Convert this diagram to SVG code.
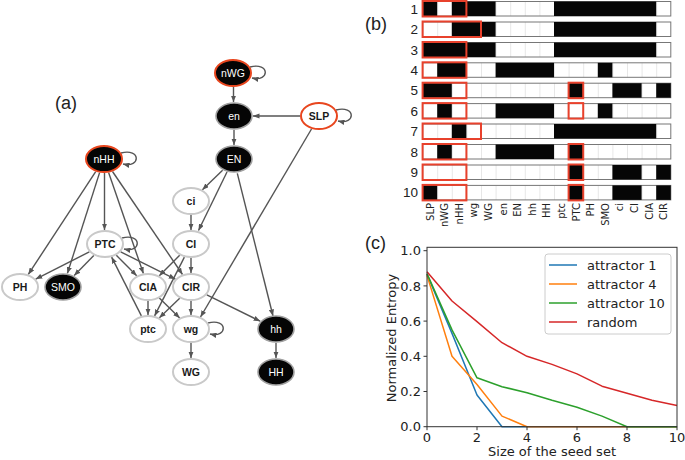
<svg xmlns="http://www.w3.org/2000/svg" width="685" height="460" viewBox="0 0 685 460">
<style>
.edge{stroke:#555;stroke-width:1.4;fill:none;marker-end:url(#ah)}
.nw{fill:#fff;stroke:#c9c9c9;stroke-width:2}
.nb{fill:#050505;stroke:#a0a0a0;stroke-width:1.6}
.nbo{fill:#050505;stroke:#e8461e;stroke-width:2}
.nwo{fill:#fff;stroke:#e8461e;stroke-width:2}
.tw{font-family:"Liberation Sans",Arial,sans-serif;font-weight:bold;font-size:10.5px;fill:#1a1a1a;text-anchor:middle}
.tb{font-family:"Liberation Sans",Arial,sans-serif;font-size:10.5px;fill:#fff;text-anchor:middle}
.lab{font-family:"Liberation Sans",Arial,sans-serif;font-size:18px;fill:#222}
.rl{font-family:"Liberation Sans",Arial,sans-serif;font-size:13.5px;fill:#222;text-anchor:end}
.cl{font-family:"DejaVu Sans",sans-serif;font-size:10px;fill:#222;text-anchor:end}
.blk{fill:#060606}
.row{fill:url(#cells);stroke:#777;stroke-width:1}
.red{fill:none;stroke:#e8412c;stroke-width:2}
.tick{font-family:"DejaVu Sans",sans-serif;font-size:13px;fill:#222}
.leg{font-family:"DejaVu Sans",sans-serif;font-size:13px;fill:#222}
.pl{fill:none;stroke-width:1.5;stroke-linejoin:round}
</style>
<defs>
<marker id="ah" viewBox="0 0 10 8" refX="10" refY="4" markerWidth="6.5" markerHeight="5.2" markerUnits="userSpaceOnUse" orient="auto"><path d="M0,0 L10,4 L0,8 z" fill="#555"/></marker>
<pattern id="cells" x="422.6" y="0" width="14.6" height="20" patternUnits="userSpaceOnUse"><rect width="14.6" height="20" fill="#fff"/><line x1="0.2" y1="0" x2="0.2" y2="20" stroke="#d4d4d4" stroke-width="0.8"/></pattern>
</defs>
<rect width="685" height="460" fill="#fff"/>

<!-- (a) network -->
<text class="lab" x="55" y="109">(a)</text>
<g id="connectors">
<path class="edge" d="M233.5,87 L233.5,102"/>
<path class="edge" d="M300,116 L253,116"/>
<path class="edge" d="M234,130 L234,145"/>
<path class="edge" d="M222.6,170.2 L202.4,189.8"/>
<path class="edge" d="M227,172 L198.5,230.5"/>
<path class="edge" d="M237.3,173.3 L273,316"/>
<path class="edge" d="M311.5,129 L200.5,317"/>
<path class="edge" d="M191,215 L191,230"/>
<path class="edge" d="M191,258 L191,273"/>
<path class="edge" d="M179.7,255.3 L159.3,275.7"/>
<path class="edge" d="M184.4,257.1 L154.6,315.9"/>
<path class="edge" d="M179.7,298.2 L159.4,317.8"/>
<path class="edge" d="M191,301 L191,315"/>
<path class="edge" d="M206.8,294.8 L260.2,321.2"/>
<path class="edge" d="M148,301 L148,315"/>
<path class="edge" d="M159.3,298.1 L179.7,317.9"/>
<path class="edge" d="M191,343 L191,358"/>
<path class="edge" d="M276,343 L276,358"/>
<path class="edge" d="M95.7,171.6 L28.3,274.4"/>
<path class="edge" d="M99.6,172.6 L67.4,273.4"/>
<path class="edge" d="M104.5,173 L104.5,230"/>
<path class="edge" d="M108.6,172.5 L143.4,273.5"/>
<path class="edge" d="M112.5,171.5 L182.5,274.5"/>
<path class="edge" d="M89.3,251.9 L35.7,279.1"/>
<path class="edge" d="M93.8,255.4 L74.2,275.6"/>
<path class="edge" d="M116.3,255.3 L136.7,275.7"/>
<path class="edge" d="M120.7,251.9 L175.3,279.1"/>
<path class="edge" d="M141.4,315.9 L111.6,257.1"/>
<!-- self loops -->
<path class="edge" d="M250,67 C270,62 270,82 252,78"/>
<path class="edge" d="M336,110 C356,105 356,125 338,121"/>
<path class="edge" d="M121,153 C141,148 141,168 123,164"/>
<path class="edge" d="M122,238 C142,233 142,253 124,249"/>
<path class="edge" d="M208,323 C228,318 228,338 210,334"/>
</g>
<g id="nWG"><ellipse class="nbo" cx="233" cy="73" rx="18" ry="13"/><text class="tb" x="233" y="76.7">nWG</text></g>
<g id="en"><ellipse class="nb" cx="234" cy="116" rx="18" ry="13"/><text class="tb" x="234" y="119.7">en</text></g>
<g id="SLP"><ellipse class="nwo" cx="319" cy="116" rx="18" ry="13"/><text class="tw" x="319" y="119.7">SLP</text></g>
<g id="EN"><ellipse class="nb" cx="234" cy="159" rx="18" ry="13"/><text class="tb" x="234" y="162.7">EN</text></g>
<g id="nHH"><ellipse class="nbo" cx="104" cy="159" rx="18" ry="13"/><text class="tb" x="104" y="162.7">nHH</text></g>
<g id="ci"><ellipse class="nw" cx="191" cy="201" rx="18" ry="13"/><text class="tw" x="191" y="204.7">ci</text></g>
<g id="CI"><ellipse class="nw" cx="191" cy="244" rx="18" ry="13"/><text class="tw" x="191" y="247.7">CI</text></g>
<g id="PTC"><ellipse class="nw" cx="105" cy="244" rx="18" ry="13"/><text class="tw" x="105" y="247.7">PTC</text></g>
<g id="PH"><ellipse class="nw" cx="20" cy="287" rx="18" ry="13"/><text class="tw" x="20" y="290.7">PH</text></g>
<g id="SMO"><ellipse class="nb" cx="63" cy="287" rx="18" ry="13"/><text class="tb" x="63" y="290.7">SMO</text></g>
<g id="CIA"><ellipse class="nw" cx="148" cy="287" rx="18" ry="13"/><text class="tw" x="148" y="290.7">CIA</text></g>
<g id="CIR"><ellipse class="nw" cx="191" cy="287" rx="18" ry="13"/><text class="tw" x="191" y="290.7">CIR</text></g>
<g id="ptc"><ellipse class="nw" cx="148" cy="329" rx="18" ry="13"/><text class="tw" x="148" y="332.7">ptc</text></g>
<g id="wg"><ellipse class="nw" cx="191" cy="329" rx="18" ry="13"/><text class="tw" x="191" y="332.7">wg</text></g>
<g id="hh"><ellipse class="nb" cx="276" cy="329" rx="18" ry="13"/><text class="tb" x="276" y="332.7">hh</text></g>
<g id="WG"><ellipse class="nw" cx="191" cy="372" rx="18" ry="13"/><text class="tw" x="191" y="375.7">WG</text></g>
<g id="HH"><ellipse class="nb" cx="276" cy="372" rx="18" ry="13"/><text class="tb" x="276" y="375.7">HH</text></g>

<!-- (b) matrix -->
<text class="lab" x="365" y="30">(b)</text>
<g id="matrix">
<g transform="translate(0,1.5)"><rect class="row" x="422.6" y="0" width="248.2" height="14.5"/><rect class="blk" x="422.6" width="14.6" height="14.5"/><rect class="blk" x="451.8" width="43.8" height="14.5"/><rect class="blk" x="554" width="102.2" height="14.5"/><rect class="red" x="422.6" y="-0.5" width="43.8" height="15.5"/><text class="rl" x="418" y="12">1</text></g>
<g transform="translate(0,22)"><rect class="row" x="422.6" y="0" width="248.2" height="14.5"/><rect class="blk" x="451.8" width="43.8" height="14.5"/><rect class="blk" x="554" width="102.2" height="14.5"/><rect class="red" x="422.6" y="-0.5" width="58.4" height="15.5"/><text class="rl" x="418" y="12">2</text></g>
<g transform="translate(0,42.5)"><rect class="row" x="422.6" y="0" width="248.2" height="14.5"/><rect class="blk" x="422.6" width="73" height="14.5"/><rect class="blk" x="554" width="102.2" height="14.5"/><rect class="red" x="422.6" y="-0.5" width="43.8" height="15.5"/><text class="rl" x="418" y="12">3</text></g>
<g transform="translate(0,62.8)"><rect class="row" x="422.6" y="0" width="248.2" height="14.5"/><rect class="blk" x="437.2" width="29.2" height="14.5"/><rect class="blk" x="495.6" width="58.4" height="14.5"/><rect class="blk" x="597.8" width="14.6" height="14.5"/><rect class="red" x="422.6" y="-0.5" width="43.8" height="15.5"/><text class="rl" x="418" y="12">4</text></g>
<g transform="translate(0,83.2)"><rect class="row" x="422.6" y="0" width="248.2" height="14.5"/><rect class="blk" x="422.6" width="29.2" height="14.5"/><rect class="blk" x="568.6" width="14.6" height="14.5"/><rect class="blk" x="612.4" width="29.2" height="14.5"/><rect class="blk" x="656.2" width="14.6" height="14.5"/><rect class="red" x="422.6" y="-0.5" width="43.8" height="15.5"/><rect class="red" x="568.6" y="-0.5" width="14.6" height="15.5"/><text class="rl" x="418" y="12">5</text></g>
<g transform="translate(0,103.6)"><rect class="row" x="422.6" y="0" width="248.2" height="14.5"/><rect class="blk" x="437.2" width="14.6" height="14.5"/><rect class="blk" x="495.6" width="58.4" height="14.5"/><rect class="blk" x="597.8" width="14.6" height="14.5"/><rect class="red" x="422.6" y="-0.5" width="43.8" height="15.5"/><rect class="red" x="568.6" y="-0.5" width="14.6" height="15.5"/><text class="rl" x="418" y="12">6</text></g>
<g transform="translate(0,124)"><rect class="row" x="422.6" y="0" width="248.2" height="14.5"/><rect class="blk" x="451.8" width="14.6" height="14.5"/><rect class="blk" x="554" width="102.2" height="14.5"/><rect class="red" x="422.6" y="-0.5" width="58.4" height="15.5"/><text class="rl" x="418" y="12">7</text></g>
<g transform="translate(0,144.5)"><rect class="row" x="422.6" y="0" width="248.2" height="14.5"/><rect class="blk" x="437.2" width="14.6" height="14.5"/><rect class="blk" x="495.6" width="58.4" height="14.5"/><rect class="blk" x="568.6" width="14.6" height="14.5"/><rect class="red" x="422.6" y="-0.5" width="43.8" height="15.5"/><rect class="red" x="568.6" y="-0.5" width="14.6" height="15.5"/><text class="rl" x="418" y="12">8</text></g>
<g transform="translate(0,165)"><rect class="row" x="422.6" y="0" width="248.2" height="14.5"/><rect class="blk" x="568.6" width="14.6" height="14.5"/><rect class="blk" x="612.4" width="29.2" height="14.5"/><rect class="blk" x="656.2" width="14.6" height="14.5"/><rect class="red" x="422.6" y="-0.5" width="43.8" height="15.5"/><rect class="red" x="568.6" y="-0.5" width="14.6" height="15.5"/><text class="rl" x="418" y="12">9</text></g>
<g transform="translate(0,185.4)"><rect class="row" x="422.6" y="0" width="248.2" height="14.5"/><rect class="blk" x="422.6" width="14.6" height="14.5"/><rect class="blk" x="568.6" width="14.6" height="14.5"/><rect class="blk" x="612.4" width="29.2" height="14.5"/><rect class="blk" x="656.2" width="14.6" height="14.5"/><rect class="red" x="422.6" y="-0.5" width="43.8" height="15.5"/><rect class="red" x="568.6" y="-0.5" width="14.6" height="15.5"/><text class="rl" x="418" y="12">10</text></g>
<text class="cl" transform="translate(433.5,203) rotate(-90)">SLP</text>
<text class="cl" transform="translate(448.1,203) rotate(-90)">nWG</text>
<text class="cl" transform="translate(462.7,203) rotate(-90)">nHH</text>
<text class="cl" transform="translate(477.3,203) rotate(-90)">wg</text>
<text class="cl" transform="translate(491.9,203) rotate(-90)">WG</text>
<text class="cl" transform="translate(506.5,203) rotate(-90)">en</text>
<text class="cl" transform="translate(521.1,203) rotate(-90)">EN</text>
<text class="cl" transform="translate(535.7,203) rotate(-90)">hh</text>
<text class="cl" transform="translate(550.3,203) rotate(-90)">HH</text>
<text class="cl" transform="translate(564.9,203) rotate(-90)">ptc</text>
<text class="cl" transform="translate(579.5,203) rotate(-90)">PTC</text>
<text class="cl" transform="translate(594.1,203) rotate(-90)">PH</text>
<text class="cl" transform="translate(608.7,203) rotate(-90)">SMO</text>
<text class="cl" transform="translate(623.3,203) rotate(-90)">ci</text>
<text class="cl" transform="translate(637.9,203) rotate(-90)">CI</text>
<text class="cl" transform="translate(652.5,203) rotate(-90)">CIA</text>
<text class="cl" transform="translate(667.1,203) rotate(-90)">CIR</text>
</g>

<!-- (c) plot -->
<text class="lab" x="365" y="249">(c)</text>
<g id="plot">
<polyline class="pl" stroke="#1f77b4" points="427,274.1 452,333.4 477,395 502,426.7 527,426.7 552,426.7 577,426.7 602,426.7 627,426.7 652,426.7 677,426.7"/>
<polyline class="pl" stroke="#ff7f0e" points="427,275.4 452,356.3 477,384.5 502,416.1 527,426.7 552,426.7 577,426.7 602,426.7 627,426.7 652,426.7 677,426.7"/>
<polyline class="pl" stroke="#2ca02c" points="427,273.6 452,329.9 477,377.8 502,386.7 527,392.7 552,400.3 577,407.3 602,416.1 627,426.7 652,426.7 677,426.7"/>
<polyline class="pl" stroke="#d62728" points="427,271.8 452,301 477,321.6 502,342.7 527,356.3 552,364.4 577,373.9 602,386.2 627,393.3 652,400.3 677,405.6"/>
<rect x="427" y="247.3" width="250" height="179.4" fill="none" stroke="#333" stroke-width="1"/>
<g stroke="#333" stroke-width="1">
<line x1="423.5" y1="426.7" x2="427" y2="426.7"/><line x1="423.5" y1="391.5" x2="427" y2="391.5"/><line x1="423.5" y1="356.3" x2="427" y2="356.3"/><line x1="423.5" y1="321.1" x2="427" y2="321.1"/><line x1="423.5" y1="285.9" x2="427" y2="285.9"/><line x1="423.5" y1="250.7" x2="427" y2="250.7"/>
<line x1="427" y1="426.7" x2="427" y2="430.2"/><line x1="477" y1="426.7" x2="477" y2="430.2"/><line x1="527" y1="426.7" x2="527" y2="430.2"/><line x1="577" y1="426.7" x2="577" y2="430.2"/><line x1="627" y1="426.7" x2="627" y2="430.2"/><line x1="677" y1="426.7" x2="677" y2="430.2"/>
</g>
<g class="tick" text-anchor="end">
<text x="421" y="431.4">0.0</text><text x="421" y="396.2">0.2</text><text x="421" y="361">0.4</text><text x="421" y="325.8">0.6</text><text x="421" y="290.6">0.8</text><text x="421" y="255.4">1.0</text>
</g>
<g class="tick" text-anchor="middle">
<text x="427" y="442">0</text><text x="477" y="442">2</text><text x="527" y="442">4</text><text x="577" y="442">6</text><text x="627" y="442">8</text><text x="677" y="442">10</text>
</g>
<text class="tick" text-anchor="middle" x="552" y="456">Size of the seed set</text>
<text class="tick" text-anchor="middle" transform="translate(396,338) rotate(-90)">Normalized Entropy</text>
<rect x="545" y="254" width="126" height="80" rx="3" fill="#fff" fill-opacity="0.8" stroke="#cccccc" stroke-width="1"/>
<line x1="549" y1="265" x2="577" y2="265" stroke="#1f77b4" stroke-width="1.5"/>
<line x1="549" y1="284" x2="577" y2="284" stroke="#ff7f0e" stroke-width="1.5"/>
<line x1="549" y1="303" x2="577" y2="303" stroke="#2ca02c" stroke-width="1.5"/>
<line x1="549" y1="322" x2="577" y2="322" stroke="#d62728" stroke-width="1.5"/>
<text class="leg" x="587" y="269.5">attractor 1</text>
<text class="leg" x="587" y="288.5">attractor 4</text>
<text class="leg" x="587" y="307.5">attractor 10</text>
<text class="leg" x="587" y="326.5">random</text>
</g>
</svg>
